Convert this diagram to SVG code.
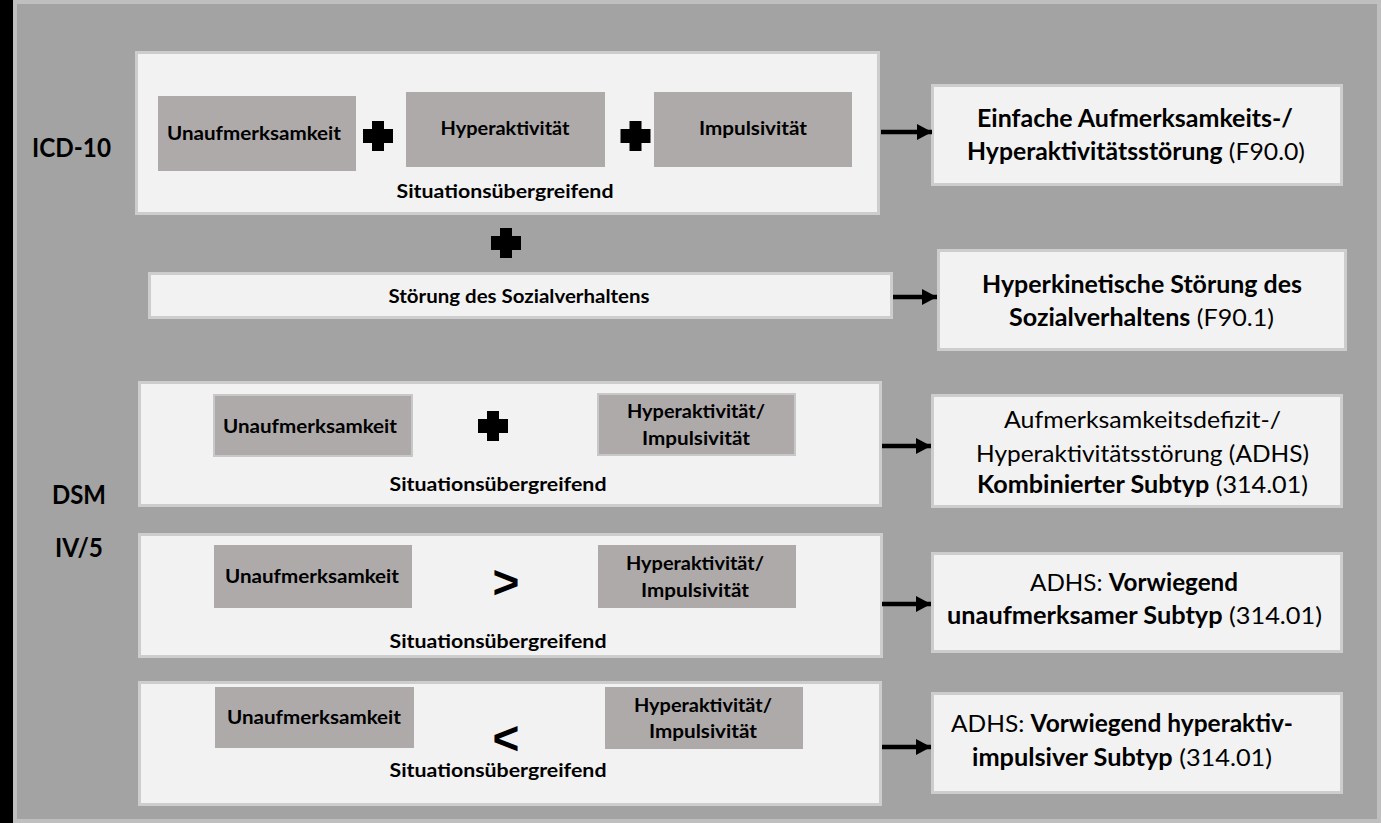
<svg xmlns="http://www.w3.org/2000/svg" width="1381" height="823" viewBox="0 0 1381 823">
<style>
text { font-family: Lato, "Open Sans", "Liberation Sans", sans-serif; fill: #000; }
.b { font-weight: bold; }
.n { font-weight: normal; }
.mid { text-anchor: middle; }
.box { fill: #f2f2f2; stroke: #cdcdcd; stroke-width: 3; }
.sub { fill: #aeaaaa; }
.subb { fill: #aeaaaa; stroke: #c8c8c8; stroke-width: 2; }
.lbl { font-size: 27px; font-weight: bold; }
.st { font-size: 18px; font-weight: bold; }
.sit { font-size: 19px; font-weight: bold; }
.res { font-size: 24px; }
text.cmp { font-family: "Liberation Sans", Arial, sans-serif; font-size: 46px; font-weight: bold; }
.conn { stroke: #000; stroke-width: 4.5; fill: none; marker-end: url(#ah); }
.plus { fill: #000; }
</style>
<defs>
<marker id="ah" markerUnits="userSpaceOnUse" markerWidth="16" markerHeight="16" refX="15" refY="8" orient="auto">
<path d="M0,0 L15,8 L0,16 z" fill="#000"/>
</marker>
<path id="plusShape" d="M-6,-15 H6 V-7 H15 V7 H6 V15 H-6 V7 H-15 V-7 H-6 Z"/>
</defs>

<rect x="0" y="0" width="1381" height="823" fill="#bfbfbf"/>
<rect x="0" y="0" width="13" height="823" fill="#000"/>
<rect x="17" y="4" width="1360" height="815" fill="#a3a3a3"/>

<g id="label-icd10"><text class="lbl" x="32" y="157" textLength="79" lengthAdjust="spacingAndGlyphs">ICD-10</text></g>
<g id="label-dsm">
<text class="lbl" x="52" y="504" textLength="54" lengthAdjust="spacingAndGlyphs">DSM</text>
<text class="lbl" x="55" y="557" textLength="48" lengthAdjust="spacingAndGlyphs">IV/5</text>
</g>

<g id="icd-criteria">
<rect class="box" x="136.5" y="52.5" width="742" height="161"/>
<rect class="sub" x="158" y="96" width="198" height="75"/>
<text class="st mid" x="254" y="140" textLength="174" lengthAdjust="spacingAndGlyphs">Unaufmerksamkeit</text>
<use href="#plusShape" class="plus" transform="translate(378,136)"/>
<rect class="sub" x="406" y="92" width="199" height="75"/>
<text class="st mid" x="505" y="135" textLength="129" lengthAdjust="spacingAndGlyphs">Hyperaktivität</text>
<use href="#plusShape" class="plus" transform="translate(635.5,136)"/>
<rect class="sub" x="654" y="92" width="198" height="75"/>
<text class="st mid" x="753" y="135" textLength="108" lengthAdjust="spacingAndGlyphs">Impulsivität</text>
<text class="sit mid" x="505" y="198" textLength="217" lengthAdjust="spacingAndGlyphs">Situationsübergreifend</text>
</g>

<g id="icd-plus"><use href="#plusShape" class="plus" transform="translate(506,243)"/></g>

<g id="icd-social">
<rect class="box" x="149.5" y="273.5" width="742" height="44"/>
<text class="st mid" x="519" y="303" textLength="261" lengthAdjust="spacingAndGlyphs">Störung des Sozialverhaltens</text>
</g>

<g id="result-f900">
<rect class="box" x="932.5" y="85.5" width="409" height="99"/>
<text class="res b mid" x="1135" y="127" textLength="316" lengthAdjust="spacingAndGlyphs">Einfache Aufmerksamkeits-/</text>
<text class="res mid" x="1136" y="160" textLength="338" lengthAdjust="spacingAndGlyphs"><tspan class="b">Hyperaktivitätsstörung</tspan> (F90.0)</text>
</g>

<g id="result-f901">
<rect class="box" x="938.5" y="250.5" width="407" height="99"/>
<text class="res b mid" x="1142" y="293" textLength="320" lengthAdjust="spacingAndGlyphs">Hyperkinetische Störung des</text>
<text class="res mid" x="1141.5" y="326" textLength="265" lengthAdjust="spacingAndGlyphs"><tspan class="b">Sozialverhaltens</tspan> (F90.1)</text>
</g>

<g id="dsm-combined">
<rect class="box" x="139.5" y="382.5" width="741" height="123"/>
<rect class="subb" x="214" y="395" width="198" height="61"/>
<text class="st mid" x="310" y="433" textLength="174" lengthAdjust="spacingAndGlyphs">Unaufmerksamkeit</text>
<use href="#plusShape" class="plus" transform="translate(493,426)"/>
<rect class="subb" x="598" y="394" width="197" height="61"/>
<text class="st mid" x="696" y="418" textLength="138" lengthAdjust="spacingAndGlyphs">Hyperaktivität/</text>
<text class="st mid" x="696" y="445" textLength="108" lengthAdjust="spacingAndGlyphs">Impulsivität</text>
<text class="sit mid" x="498" y="491" textLength="217" lengthAdjust="spacingAndGlyphs">Situationsübergreifend</text>
</g>

<g id="dsm-inattentive">
<rect class="box" x="139.5" y="534.5" width="742" height="122"/>
<rect class="sub" x="214" y="545" width="198" height="63"/>
<text class="st mid" x="312" y="583" textLength="174" lengthAdjust="spacingAndGlyphs">Unaufmerksamkeit</text>
<text class="cmp mid" x="506" y="598">&gt;</text>
<rect class="sub" x="598" y="545" width="198" height="63"/>
<text class="st mid" x="695" y="570" textLength="138" lengthAdjust="spacingAndGlyphs">Hyperaktivität/</text>
<text class="st mid" x="695" y="597" textLength="108" lengthAdjust="spacingAndGlyphs">Impulsivität</text>
<text class="sit mid" x="498" y="648" textLength="217" lengthAdjust="spacingAndGlyphs">Situationsübergreifend</text>
</g>

<g id="dsm-hyperactive">
<rect class="box" x="139.5" y="682.5" width="741" height="122"/>
<rect class="sub" x="215" y="687" width="199" height="61"/>
<text class="st mid" x="314" y="724" textLength="174" lengthAdjust="spacingAndGlyphs">Unaufmerksamkeit</text>
<text class="cmp mid" x="506" y="754">&lt;</text>
<rect class="sub" x="605" y="687" width="198" height="62"/>
<text class="st mid" x="703" y="712" textLength="138" lengthAdjust="spacingAndGlyphs">Hyperaktivität/</text>
<text class="st mid" x="703" y="738" textLength="108" lengthAdjust="spacingAndGlyphs">Impulsivität</text>
<text class="sit mid" x="498" y="777" textLength="217" lengthAdjust="spacingAndGlyphs">Situationsübergreifend</text>
</g>

<g id="result-combined">
<rect class="box" x="932.5" y="395.5" width="409" height="111"/>
<text class="res mid" x="1142.5" y="428" textLength="277" lengthAdjust="spacingAndGlyphs">Aufmerksamkeitsdefizit-/</text>
<text class="res mid" x="1142.5" y="462" textLength="333" lengthAdjust="spacingAndGlyphs">Hyperaktivitätsstörung (ADHS)</text>
<text class="res mid" x="1142.5" y="493" textLength="331" lengthAdjust="spacingAndGlyphs"><tspan class="b">Kombinierter Subtyp</tspan> (314.01)</text>
</g>

<g id="result-inattentive">
<rect class="box" x="932.5" y="553.5" width="409" height="98"/>
<text class="res mid" x="1134" y="591" textLength="208" lengthAdjust="spacingAndGlyphs">ADHS: <tspan class="b">Vorwiegend</tspan></text>
<text class="res mid" x="1134.5" y="624" textLength="375" lengthAdjust="spacingAndGlyphs"><tspan class="b">unaufmerksamer Subtyp</tspan> (314.01)</text>
</g>

<g id="result-hyperactive">
<rect class="box" x="932.5" y="693.5" width="409" height="99"/>
<text class="res mid" x="1122" y="732" textLength="342" lengthAdjust="spacingAndGlyphs">ADHS: <tspan class="b">Vorwiegend hyperaktiv-</tspan></text>
<text class="res mid" x="1122" y="766" textLength="300" lengthAdjust="spacingAndGlyphs"><tspan class="b">impulsiver Subtyp</tspan> (314.01)</text>
</g>

<g id="connectors">
<line class="conn" x1="881" y1="132" x2="932" y2="132"/>
<line class="conn" x1="893" y1="297" x2="937" y2="297"/>
<line class="conn" x1="882" y1="446" x2="931" y2="446"/>
<line class="conn" x1="882" y1="604" x2="931" y2="604"/>
<line class="conn" x1="882" y1="747" x2="931" y2="747"/>
</g>
</svg>
